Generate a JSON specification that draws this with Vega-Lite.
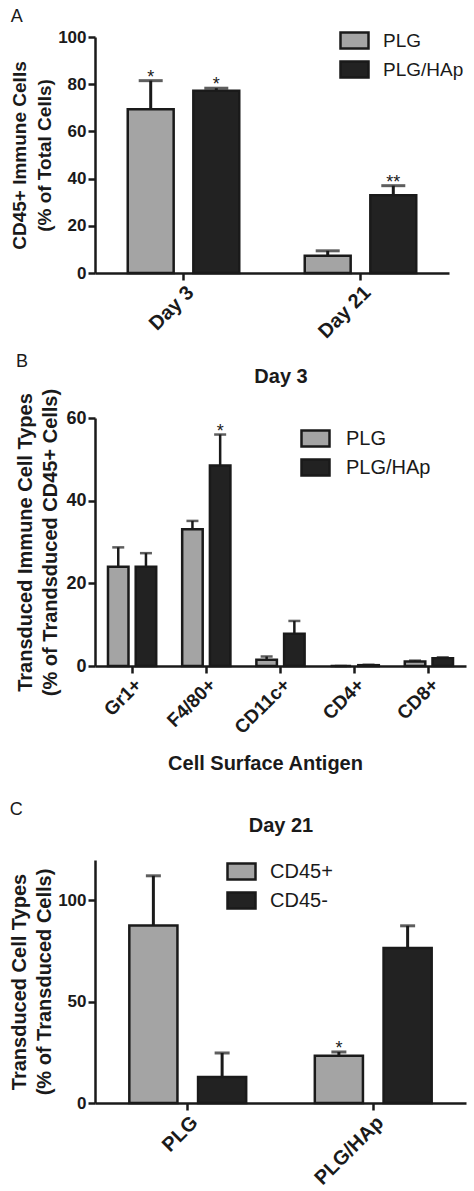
{
  "$schema": "https://vega.github.io/schema/vega-lite/v6.json",
  "padding": {"left": 9, "top": 8, "right": 5, "bottom": 5},
  "background": "white",
  "spacing": 11,
  "resolve": {"scale": {"color": "independent", "xOffset": "independent"}, "legend": {"color": "independent"}},
  "config": {
    "font": "Liberation Sans",
    "view": {"stroke": null},
    "axis": {
      "grid": false,
      "domainColor": "#1a1a1a", "domainWidth": 2.5,
      "tickColor": "#1a1a1a", "tickWidth": 2.5, "tickSize": 7,
      "labelFont": "Liberation Sans", "labelFontWeight": "bold", "labelFontSize": 18, "labelColor": "#1a1a1a", "labelPadding": 2,
      "titleFont": "Liberation Sans", "titleFontWeight": "bold", "titleFontSize": 19, "titleColor": "#1a1a1a", "titleLineHeight": 25
    },
    "title": {"anchor": "start", "frame": "bounds", "fontSize": 18, "fontWeight": "normal", "color": "#1a1a1a", "font": "Liberation Sans", "offset": 2},
    "legend": {
      "title": null, "labelFont": "Liberation Sans", "labelFontSize": 19, "labelColor": "#1a1a1a",
      "symbolType": "M-1,-0.57L1,-0.57L1,0.57L-1,0.57Z", "symbolSize": 784,
      "symbolStrokeColor": "#1a1a1a", "symbolStrokeWidth": 2.5, "symbolOpacity": 1, "rowPadding": 0
    }
  },
  "vconcat": [
    {
      "title": {"text": "A", "offset": -1},
      "width": 354, "height": 236,
      "data": {"values": [
        {"day": "Day 3", "group": "PLG", "value": 69.4, "upper": 81.5, "sig": "*"},
        {"day": "Day 3", "group": "PLG/HAp", "value": 77.2, "upper": 78.3, "sig": "*"},
        {"day": "Day 21", "group": "PLG", "value": 7.3, "upper": 9.4, "sig": ""},
        {"day": "Day 21", "group": "PLG/HAp", "value": 32.9, "upper": 37.0, "sig": "**"}
      ]},
      "encoding": {
        "x": {"field": "day", "type": "nominal", "sort": ["Day 3", "Day 21"], "scale": {"paddingInner": 0.37, "paddingOuter": 0.185}, "axis": {"title": null, "labelAngle": -45, "labelFontSize": 20}},
        "xOffset": {"field": "group", "type": "nominal", "sort": ["PLG", "PLG/HAp"], "scale": {"paddingInner": 0.3, "paddingOuter": 0}}
      },
      "layer": [
        {"mark": {"type": "rule", "strokeWidth": 3, "color": "#1a1a1a"},
         "encoding": {"y": {"field": "value", "type": "quantitative"}, "y2": {"field": "upper"}}},
        {"mark": {"type": "tick", "orient": "horizontal", "size": 24, "thickness": 3, "color": "#1a1a1a"},
         "encoding": {"y": {"field": "upper", "type": "quantitative"}}},
        {"mark": {"type": "bar", "stroke": "#1a1a1a", "strokeWidth": 2.5},
         "encoding": {
           "y": {"field": "value", "type": "quantitative", "scale": {"domain": [0, 100]}, "axis": {"values": [0, 20, 40, 60, 80, 100], "title": ["CD45+ Immune Cells", "(% of Total  Cells)"], "titlePadding": 3, "labelFontSize": 17}},
           "color": {"field": "group", "type": "nominal", "sort": ["PLG", "PLG/HAp"], "scale": {"domain": ["PLG", "PLG/HAp"], "range": ["#a4a4a4", "#222222"]},
             "legend": {"orient": "none", "legendX": 244, "legendY": -12, "labelOffset": 13}}
         }},
        {"mark": {"type": "text", "baseline": "alphabetic", "dy": 2, "fontSize": 18, "color": "#1a1a1a"},
         "encoding": {"y": {"field": "upper", "type": "quantitative"}, "text": {"field": "sig"}}}
      ]
    },
    {
      "title": {"text": "B", "offset": -5},
      "width": 371, "height": 248,
      "data": {"values": [
        {"antigen": "Gr1+", "group": "PLG", "value": 24.0, "upper": 28.7, "sig": ""},
        {"antigen": "Gr1+", "group": "PLG/HAp", "value": 24.0, "upper": 27.3, "sig": ""},
        {"antigen": "F4/80+", "group": "PLG", "value": 33.1, "upper": 35.1, "sig": ""},
        {"antigen": "F4/80+", "group": "PLG/HAp", "value": 48.5, "upper": 56.0, "sig": "*"},
        {"antigen": "CD11c+", "group": "PLG", "value": 1.5, "upper": 2.3, "sig": ""},
        {"antigen": "CD11c+", "group": "PLG/HAp", "value": 7.8, "upper": 10.9, "sig": ""},
        {"antigen": "CD4+", "group": "PLG", "value": 0.0, "upper": 0.0, "sig": ""},
        {"antigen": "CD4+", "group": "PLG/HAp", "value": 0.2, "upper": 0.3, "sig": ""},
        {"antigen": "CD8+", "group": "PLG", "value": 1.1, "upper": 1.3, "sig": ""},
        {"antigen": "CD8+", "group": "PLG/HAp", "value": 1.9, "upper": 2.1, "sig": ""}
      ]},
      "encoding": {
        "x": {"field": "antigen", "type": "nominal", "sort": ["Gr1+", "F4/80+", "CD11c+", "CD4+", "CD8+"], "scale": {"paddingInner": 0.35, "paddingOuter": 0.175}},
        "xOffset": {"field": "group", "type": "nominal", "sort": ["PLG", "PLG/HAp"], "scale": {"paddingInner": 0.26, "paddingOuter": 0}}
      },
      "resolve": {"axis": {"x": "independent"}},
      "layer": [
        {"mark": {"type": "rule", "strokeWidth": 2.5, "color": "#1a1a1a"},
         "encoding": {"x": {"field": "antigen", "type": "nominal", "sort": ["Gr1+", "F4/80+", "CD11c+", "CD4+", "CD8+"], "axis": null}, "y": {"field": "value", "type": "quantitative"}, "y2": {"field": "upper"}}},
        {"mark": {"type": "tick", "orient": "horizontal", "size": 12, "thickness": 2.5, "color": "#1a1a1a"},
         "encoding": {"x": {"field": "antigen", "type": "nominal", "sort": ["Gr1+", "F4/80+", "CD11c+", "CD4+", "CD8+"], "axis": null}, "y": {"field": "upper", "type": "quantitative"}}},
        {"mark": {"type": "bar", "stroke": "#1a1a1a", "strokeWidth": 2.5},
         "encoding": {
           "x": {"field": "antigen", "type": "nominal", "sort": ["Gr1+", "F4/80+", "CD11c+", "CD4+", "CD8+"], "axis": {"orient": "bottom", "title": ["Cell Surface Antigen", " "], "titleFontSize": 20, "titleLineHeight": 16, "titleX": 170, "labelAngle": -45, "labelFontSize": 19, "titlePadding": 16}},
           "y": {"field": "value", "type": "quantitative", "scale": {"domain": [0, 60]}, "axis": {"values": [0, 20, 40, 60], "title": ["Transduced Immune Cell Types", "(% of Trandsduced CD45+ Cells)"], "titleFontSize": 20, "titlePadding": 5, "labelFontSize": 18}},
           "color": {"field": "group", "type": "nominal", "sort": ["PLG", "PLG/HAp"], "scale": {"domain": ["PLG", "PLG/HAp"], "range": ["#a4a4a4", "#222222"]},
             "legend": {"orient": "none", "legendX": 205, "legendY": 5, "labelOffset": 15, "labelFontSize": 20}}
         }},
        {"mark": {"type": "text", "baseline": "alphabetic", "dy": 2, "fontSize": 18, "color": "#1a1a1a"},
         "encoding": {
           "x": {"field": "antigen", "type": "nominal", "sort": ["Gr1+", "F4/80+", "CD11c+", "CD4+", "CD8+"], "axis": {"orient": "top", "title": "Day 3", "titleFontSize": 20, "labels": false, "ticks": false, "domain": false, "titlePadding": 32}},
           "y": {"field": "upper", "type": "quantitative"}, "text": {"field": "sig"}}}
      ]
    },
    {
      "title": {"text": "C", "offset": -4},
      "width": 371, "height": 243,
      "data": {"values": [
        {"scaffold": "PLG", "cells": "CD45+", "value": 87.7, "upper": 112.2, "sig": ""},
        {"scaffold": "PLG", "cells": "CD45-", "value": 12.8, "upper": 24.7, "sig": ""},
        {"scaffold": "PLG/HAp", "cells": "CD45+", "value": 23.3, "upper": 25.2, "sig": "*"},
        {"scaffold": "PLG/HAp", "cells": "CD45-", "value": 76.5, "upper": 87.5, "sig": ""}
      ]},
      "encoding": {
        "x": {"field": "scaffold", "type": "nominal", "sort": ["PLG", "PLG/HAp"], "scale": {"paddingInner": 0.37, "paddingOuter": 0.185}},
        "xOffset": {"field": "cells", "type": "nominal", "sort": ["CD45+", "CD45-"], "scale": {"paddingInner": 0.3, "paddingOuter": 0}}
      },
      "resolve": {"axis": {"x": "independent"}},
      "layer": [
        {"mark": {"type": "rule", "strokeWidth": 3, "color": "#1a1a1a"},
         "encoding": {"x": {"field": "scaffold", "type": "nominal", "sort": ["PLG", "PLG/HAp"], "axis": null}, "y": {"field": "value", "type": "quantitative"}, "y2": {"field": "upper"}}},
        {"mark": {"type": "tick", "orient": "horizontal", "size": 15, "thickness": 3, "color": "#1a1a1a"},
         "encoding": {"x": {"field": "scaffold", "type": "nominal", "sort": ["PLG", "PLG/HAp"], "axis": null}, "y": {"field": "upper", "type": "quantitative"}}},
        {"mark": {"type": "bar", "stroke": "#1a1a1a", "strokeWidth": 2.5},
         "encoding": {
           "x": {"field": "scaffold", "type": "nominal", "sort": ["PLG", "PLG/HAp"], "axis": {"orient": "bottom", "title": null, "labelAngle": -45, "labelFontSize": 20}},
           "y": {"field": "value", "type": "quantitative", "scale": {"domain": [0, 120]}, "axis": {"values": [0, 50, 100], "title": ["Transduced Cell Types", "(% of Transduced Cells)"], "titleFontSize": 20, "titlePadding": 3, "labelFontSize": 17}},
           "color": {"field": "cells", "type": "nominal", "sort": ["CD45+", "CD45-"], "scale": {"domain": ["CD45+", "CD45-"], "range": ["#a4a4a4", "#222222"]},
             "legend": {"orient": "none", "legendX": 131, "legendY": -4, "labelOffset": 13, "labelFontSize": 20}}
         }},
        {"mark": {"type": "text", "baseline": "alphabetic", "dy": 2, "fontSize": 18, "color": "#1a1a1a"},
         "encoding": {
           "x": {"field": "scaffold", "type": "nominal", "sort": ["PLG", "PLG/HAp"], "axis": {"orient": "top", "title": "Day 21", "titleFontSize": 20, "labels": false, "ticks": false, "domain": false, "titlePadding": 25}},
           "y": {"field": "upper", "type": "quantitative"}, "text": {"field": "sig"}}}
      ]
    }
  ]
}
